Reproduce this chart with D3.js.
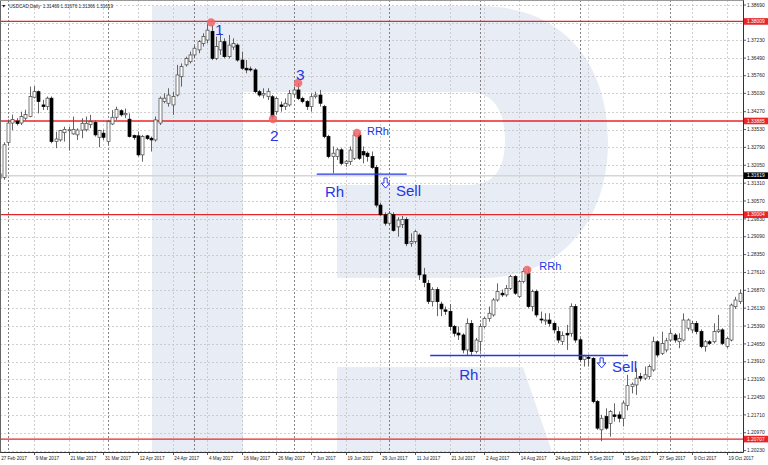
<!DOCTYPE html>
<html><head><meta charset="utf-8">
<script src="https://cdn.jsdelivr.net/npm/d3@7"></script>
<style>html,body{margin:0;padding:0;background:#fff;overflow:hidden}</style>
</head><body>
<svg id="c" width="768" height="465"></svg>
<script>
// ---- data (bar index 0 = 27 Feb 2017, daily bars) ----
const open = [1.3170,1.3155,1.3300,1.3380,1.3388,1.3380,1.3400,1.3407,1.3487,1.3510,
1.3455,1.3448,1.3483,1.3303,1.3310,1.3340,1.3348,1.3335,1.3331,1.3351,
1.3352,1.3373,1.3382,1.3321,1.3338,1.3303,1.3376,1.3404,1.3431,1.3414,
1.3396,1.3328,1.3327,1.3248,1.3327,1.3317,1.3310,1.3380,1.3469,1.3462,
1.3455,1.3496,1.3572,1.3621,1.3634,1.3662,1.3683,1.3710,1.3724,1.3760,
1.3648,1.3683,1.3717,1.3655,1.3695,1.3703,1.3641,1.3607,1.3604,1.3600,
1.3510,1.3496,1.3489,1.3489,1.3427,1.3455,1.3448,1.3455,1.3500,1.3517,
1.3482,1.3469,1.3448,1.3489,1.3496,1.3448,1.3324,1.3241,1.3241,1.3269,
1.3213,1.3220,1.3234,1.3330,1.3262,1.3255,1.3241,1.3196,1.3040,1.3000,
1.2965,1.3000,1.2950,1.2960,1.2980,1.2882,1.2889,1.2916,1.2751,1.2716,
1.2640,1.2690,1.2630,1.2606,1.2600,1.2537,1.2510,1.2502,1.2440,1.2550,
1.2433,1.2475,1.2537,1.2571,1.2585,1.2647,1.2675,1.2668,1.2695,1.2744,
1.2661,1.2723,1.2758,1.2620,1.2682,1.2568,1.2560,1.2564,1.2550,1.2516,
1.2475,1.2509,1.2509,1.2620,1.2482,1.2400,1.2410,1.2405,1.2226,1.2109,
1.2164,1.2136,1.2171,1.2171,1.2157,1.2210,1.2288,1.2295,1.2330,1.2323,
1.2330,1.2357,1.2474,1.2426,1.2440,1.2481,1.2502,1.2474,1.2481,1.2530,
1.2523,1.2550,1.2516,1.2454,1.2474,1.2474,1.2516,1.2523,1.2454,1.2481,
1.2619,1.2640];
const high = [1.3185,1.3300,1.3395,1.3415,1.3400,1.3427,1.3435,1.3531,1.3533,1.3515,
1.3476,1.3490,1.3490,1.3344,1.3352,1.3365,1.3365,1.3407,1.3358,1.3400,
1.3407,1.3414,1.3390,1.3352,1.3352,1.3393,1.3434,1.3448,1.3437,1.3440,
1.3420,1.3332,1.3345,1.3331,1.3331,1.3324,1.3407,1.3490,1.3503,1.3524,
1.3510,1.3621,1.3627,1.3655,1.3676,1.3700,1.3724,1.3752,1.3793,1.3786,
1.3738,1.3752,1.3731,1.3745,1.3731,1.3710,1.3676,1.3641,1.3614,1.3607,
1.3517,1.3524,1.3524,1.3496,1.3489,1.3469,1.3482,1.3517,1.3531,1.3546,
1.3489,1.3475,1.3503,1.3510,1.3517,1.3455,1.3331,1.3283,1.3276,1.3276,
1.3227,1.3283,1.3340,1.3340,1.3283,1.3262,1.3262,1.3206,1.3050,1.3010,
1.3015,1.3010,1.2990,1.2995,1.2990,1.2923,1.2937,1.2923,1.2780,1.2730,
1.2700,1.2700,1.2640,1.2620,1.2630,1.2544,1.2537,1.2509,1.2571,1.2564,
1.2490,1.2550,1.2578,1.2620,1.2655,1.2716,1.2690,1.2709,1.2751,1.2750,
1.2730,1.2778,1.2778,1.2690,1.2690,1.2599,1.2592,1.2592,1.2557,1.2537,
1.2516,1.2544,1.2633,1.2630,1.2490,1.2420,1.2420,1.2410,1.2233,1.2171,
1.2198,1.2191,1.2219,1.2185,1.2230,1.2337,1.2305,1.2364,1.2345,1.2371,
1.2380,1.2495,1.2480,1.2516,1.2490,1.2523,1.2510,1.2509,1.2591,1.2570,
1.2560,1.2560,1.2525,1.2481,1.2481,1.2550,1.2585,1.2530,1.2495,1.2632,
1.2660,1.2691];
const low = [1.3135,1.3145,1.3290,1.3350,1.3370,1.3372,1.3390,1.3404,1.3482,1.3420,
1.3434,1.3434,1.3296,1.3276,1.3303,1.3303,1.3266,1.3331,1.3310,1.3317,
1.3345,1.3359,1.3324,1.3280,1.3310,1.3290,1.3372,1.3393,1.3407,1.3400,
1.3320,1.3310,1.3241,1.3220,1.3310,1.3262,1.3303,1.3372,1.3462,1.3448,
1.3414,1.3490,1.3531,1.3614,1.3627,1.3648,1.3669,1.3697,1.3710,1.3641,
1.3641,1.3662,1.3648,1.3648,1.3683,1.3634,1.3600,1.3586,1.3593,1.3503,
1.3489,1.3482,1.3475,1.3396,1.3414,1.3427,1.3434,1.3448,1.3489,1.3475,
1.3462,1.3434,1.3427,1.3482,1.3448,1.3317,1.3234,1.3172,1.3227,1.3206,
1.3199,1.3206,1.3227,1.3227,1.3213,1.3220,1.3190,1.3030,1.2995,1.2955,
1.2958,1.2930,1.2909,1.2945,1.2870,1.2868,1.2880,1.2730,1.2700,1.2630,
1.2620,1.2580,1.2580,1.2585,1.2520,1.2495,1.2481,1.2426,1.2419,1.2419,
1.2426,1.2433,1.2530,1.2557,1.2578,1.2640,1.2660,1.2660,1.2688,1.2668,
1.2655,1.2716,1.2613,1.2600,1.2575,1.2550,1.2544,1.2537,1.2509,1.2468,
1.2460,1.2440,1.2495,1.2470,1.2390,1.2371,1.2371,1.2219,1.2109,1.2062,
1.2109,1.2081,1.2143,1.2140,1.2123,1.2190,1.2260,1.2254,1.2310,1.2315,
1.2320,1.2350,1.2410,1.2419,1.2430,1.2475,1.2470,1.2447,1.2475,1.2520,
1.2510,1.2505,1.2447,1.2433,1.2460,1.2467,1.2510,1.2460,1.2447,1.2475,
1.2610,1.2630];
const close = [1.3150,1.3290,1.3380,1.3395,1.3378,1.3407,1.3415,1.3490,1.3510,1.3469,
1.3448,1.3483,1.3303,1.3314,1.3349,1.3354,1.3352,1.3354,1.3351,1.3379,
1.3379,1.3386,1.3331,1.3349,1.3321,1.3386,1.3404,1.3437,1.3414,1.3420,
1.3324,1.3320,1.3248,1.3324,1.3316,1.3310,1.3393,1.3483,1.3483,1.3496,
1.3490,1.3579,1.3614,1.3648,1.3662,1.3690,1.3717,1.3738,1.3765,1.3648,
1.3697,1.3717,1.3655,1.3703,1.3710,1.3641,1.3607,1.3600,1.3600,1.3510,
1.3496,1.3503,1.3510,1.3407,1.3482,1.3448,1.3462,1.3503,1.3517,1.3482,
1.3469,1.3448,1.3489,1.3496,1.3462,1.3324,1.3241,1.3255,1.3269,1.3213,
1.3222,1.3268,1.3330,1.3234,1.3248,1.3241,1.3196,1.3040,1.3000,1.2965,
1.3006,1.2935,1.2978,1.2980,1.2880,1.2889,1.2930,1.2751,1.2720,1.2641,
1.2690,1.2640,1.2610,1.2600,1.2537,1.2509,1.2502,1.2440,1.2550,1.2433,
1.2481,1.2537,1.2571,1.2592,1.2647,1.2682,1.2668,1.2695,1.2744,1.2675,
1.2723,1.2765,1.2620,1.2682,1.2585,1.2564,1.2564,1.2550,1.2523,1.2481,
1.2500,1.2502,1.2620,1.2481,1.2400,1.2415,1.2405,1.2226,1.2116,1.2157,
1.2116,1.2185,1.2164,1.2157,1.2220,1.2292,1.2298,1.2323,1.2323,1.2337,
1.2371,1.2474,1.2419,1.2467,1.2478,1.2509,1.2481,1.2488,1.2564,1.2564,
1.2550,1.2516,1.2454,1.2474,1.2467,1.2516,1.2523,1.2467,1.2488,1.2626,
1.2647,1.2675];

const dateLabels = ["27 Feb 2017","9 Mar 2017","21 Mar 2017","31 Mar 2017","12 Apr 2017","24 Apr 2017",
"4 May 2017","16 May 2017","26 May 2017","7 Jun 2017","19 Jun 2017","29 Jun 2017","11 Jul 2017",
"21 Jul 2017","2 Aug 2017","14 Aug 2017","24 Aug 2017","5 Sep 2017","15 Sep 2017","27 Sep 2017",
"9 Oct 2017","19 Oct 2017"];
const labelStep = 8;                       // one date label every 8 bars
const monthStarts = [2,25,45,68,90,111,134,155]; // period separators
const priceTicks = [1.38690,1.37960,1.37230,1.36490,1.35760,1.35030,1.34270,1.33530,1.32790,1.32050,
1.31310,1.30570,1.29830,1.29090,1.28350,1.27610,1.26870,1.26130,1.25390,1.24650,1.23910,1.23190,
1.22450,1.21710,1.20970,1.20230];
const levels = [1.38009,1.33885,1.30004,1.20707];
const bidPrice = 1.31619;
const headerText = "USDCAD,Daily  1.31469 1.31676 1.31366 1.31619";

const dots = [{i:48.9,p:1.3797},{i:63.2,p:1.3397},{i:69.0,p:1.3546},{i:82.6,p:1.3339},{i:121.9,p:1.2771}];
const labels = [
 {t:"1",i:49.8,p:1.37447,s:15.5},{t:"2",i:62.5,p:1.33056,s:15.5},{t:"3",i:68.5,p:1.35583,s:15.5},
 {t:"RRh",i:84.9,p:1.33305,s:11},{t:"RRh",i:124.7,p:1.27712,s:11},
 {t:"Rh",i:75.2,p:1.30736,s:15},{t:"Sell",i:91.6,p:1.30778,s:15},
 {t:"Rh",i:106.2,p:1.23156,s:15},{t:"Sell",i:141.5,p:1.23487,s:15}];
const rhLines = [{i0:73.3,i1:94.1,p:1.3168},{i0:99.5,i1:145.2,p:1.2417}];
const arrows = [{i:89.2,p:1.3152},{i:139.1,p:1.2407}];

// ---- scales ----
const W=768,H=465, plotR=743.5, plotB=452.5;
const x = d3.scaleLinear().domain([0,171]).range([-0.66, 739.77]);
const y = d3.scaleLinear().domain([1.3869,1.2023]).range([5,450.6]);
const svg = d3.select("#c");
const blue="#2536e6", red="#e8262a";

// watermark (R logo)
const wm = svg.append("g").attr("fill","#e8ecf4");
wm.append("rect").attr("x",152).attr("y",6).attr("width",91).attr("height",446);
wm.append("path").attr("fill-rule","evenodd").attr("d",
 "M243,6 L480,6 C560,6 608,60 608,142 C608,222 560,278 480,278 L337,278 L337,185 L468,185 C495,185 505,168 505,140 C505,110 493,92 468,92 L243,92 Z");
wm.append("path").attr("d","M337,367 L523,367 L552,452 L337,452 Z");

// grid
const g = svg.append("g");
g.selectAll(".hg").data(priceTicks).join("line")
 .attr("x1",0).attr("x2",plotR).attr("y1",d=>Math.round(y(d))+0.5).attr("y2",d=>Math.round(y(d))+0.5)
 .attr("stroke","#c4c4c4").attr("stroke-width",0.8).attr("stroke-dasharray","2,2");
g.selectAll(".vg").data(dateLabels).join("line")
 .attr("x1",(d,k)=>Math.round(x(k*labelStep))+0.5).attr("x2",(d,k)=>Math.round(x(k*labelStep))+0.5)
 .attr("y1",0).attr("y2",plotB)
 .attr("stroke","#c4c4c4").attr("stroke-width",0.8).attr("stroke-dasharray","2,2");
g.selectAll(".ms").data(monthStarts).join("line")
 .attr("x1",d=>Math.round(x(d))+0.5).attr("x2",d=>Math.round(x(d))+0.5)
 .attr("y1",0).attr("y2",plotB)
 .attr("stroke","#666").attr("stroke-width",0.8).attr("stroke-dasharray","2,2");

// bid line
svg.append("line").attr("x1",0).attr("x2",plotR).attr("y1",y(bidPrice)).attr("y2",y(bidPrice))
 .attr("stroke","#d6d6d6").attr("stroke-width",1.6);

// level lines
svg.selectAll(".lv").data(levels).join("line")
 .attr("x1",0).attr("x2",plotR).attr("y1",d=>y(d)).attr("y2",d=>y(d))
 .attr("stroke",red).attr("stroke-width",1.3);

// candles
const idx = d3.range(open.length);
const cg = svg.append("g");
cg.selectAll(".wk").data(idx).join("line")
 .attr("x1",i=>Math.round(x(i))+0.5).attr("x2",i=>Math.round(x(i))+0.5)
 .attr("y1",i=>y(high[i])).attr("y2",i=>y(low[i]))
 .attr("stroke","#555").attr("stroke-width",0.9);
cg.selectAll(".bd").data(idx).join("rect")
 .attr("x",i=>Math.round(x(i))-1)
 .attr("width",3)
 .attr("y",i=>y(Math.max(open[i],close[i])))
 .attr("height",i=>Math.max(0.8,Math.abs(y(open[i])-y(close[i]))))
 .attr("fill",i=>close[i]>=open[i]?"#fff":"#000")
 .attr("stroke",i=>close[i]>=open[i]?"#444":"#000")
 .attr("stroke-width",0.7);

// blue support lines
svg.selectAll(".rh").data(rhLines).join("line")
 .attr("x1",d=>x(d.i0)).attr("x2",d=>x(d.i1)).attr("y1",d=>y(d.p)).attr("y2",d=>y(d.p))
 .attr("stroke",blue).attr("stroke-width",1.3);

// dots
svg.selectAll(".dt").data(dots).join("circle")
 .attr("cx",d=>x(d.i)).attr("cy",d=>y(d.p)).attr("r",4.2)
 .attr("fill","#f06464").attr("opacity",0.85);

// arrows (hollow down arrows)
svg.selectAll(".ar").data(arrows).join("path")
 .attr("transform",d=>`translate(${x(d.i)},${y(d.p)})`)
 .attr("d","M-1.6,0 L1.6,0 L1.6,5 L4.3,5 L0,10 L-4.3,5 L-1.6,5 Z")
 .attr("fill","#fff").attr("stroke",blue).attr("stroke-width",1);

// annotation text
svg.selectAll(".lb").data(labels).join("text")
 .attr("x",d=>x(d.i)).attr("y",d=>y(d.p))
 .attr("font-family","Liberation Sans, Arial, sans-serif").attr("font-size",d=>d.s)
 .attr("fill",blue).text(d=>d.t);

// frame / axes
svg.append("line").attr("x1",plotR).attr("x2",plotR).attr("y1",0).attr("y2",plotB).attr("stroke","#333").attr("stroke-width",1);
svg.append("line").attr("x1",0).attr("x2",plotR).attr("y1",plotB).attr("y2",plotB).attr("stroke","#333").attr("stroke-width",1);
svg.append("line").attr("x1",0.5).attr("x2",0.5).attr("y1",0).attr("y2",plotB).attr("stroke","#666").attr("stroke-width",1);
svg.append("line").attr("x1",0).attr("x2",plotR).attr("y1",0.5).attr("y2",0.5).attr("stroke","#999").attr("stroke-width",1);

const font="Liberation Sans, Arial, sans-serif";
// price axis labels
const pa = svg.append("g");
pa.selectAll("line").data(priceTicks).join("line")
 .attr("x1",plotR).attr("x2",plotR+2.5).attr("y1",d=>y(d)).attr("y2",d=>y(d)).attr("stroke","#333").attr("stroke-width",0.8);
pa.selectAll("text").data(priceTicks).join("text")
 .attr("x",747).attr("y",d=>y(d)).attr("dy","0.35em")
 .attr("font-family",font).attr("font-size",4.9).attr("fill","#222")
 .text(d=>d.toFixed(5));

// level tags
const tag = (p,fill) => {
  svg.append("rect").attr("x",744).attr("y",y(p)-3.3).attr("width",24).attr("height",6.6).attr("fill",fill);
  svg.append("text").attr("x",747).attr("y",y(p)).attr("dy","0.35em").attr("font-family",font)
   .attr("font-size",4.9).attr("fill","#fff").text(p.toFixed(5));
};
levels.forEach(p=>tag(p,red));
tag(bidPrice,"#000");

// time axis labels
const ta = svg.append("g");
ta.selectAll("line").data(dateLabels).join("line")
 .attr("x1",(d,k)=>Math.round(x(k*labelStep))+0.5).attr("x2",(d,k)=>Math.round(x(k*labelStep))+0.5)
 .attr("y1",plotB).attr("y2",plotB+2.5).attr("stroke","#333").attr("stroke-width",0.8);
ta.selectAll("text").data(dateLabels).join("text")
 .attr("x",(d,k)=>x(k*labelStep)+1.8).attr("y",459.5)
 .attr("font-family",font).attr("font-size",4.6).attr("fill","#222").text(d=>d);

// header
svg.append("path").attr("d","M2,5 L5.5,5 L3.75,7.5 Z").attr("fill","#222");
svg.append("text").attr("x",9.3).attr("y",8.4).attr("font-family",font).attr("font-size",4.6)
 .attr("fill","#222").attr("xml:space","preserve").text(headerText);
</script>
</body></html>
